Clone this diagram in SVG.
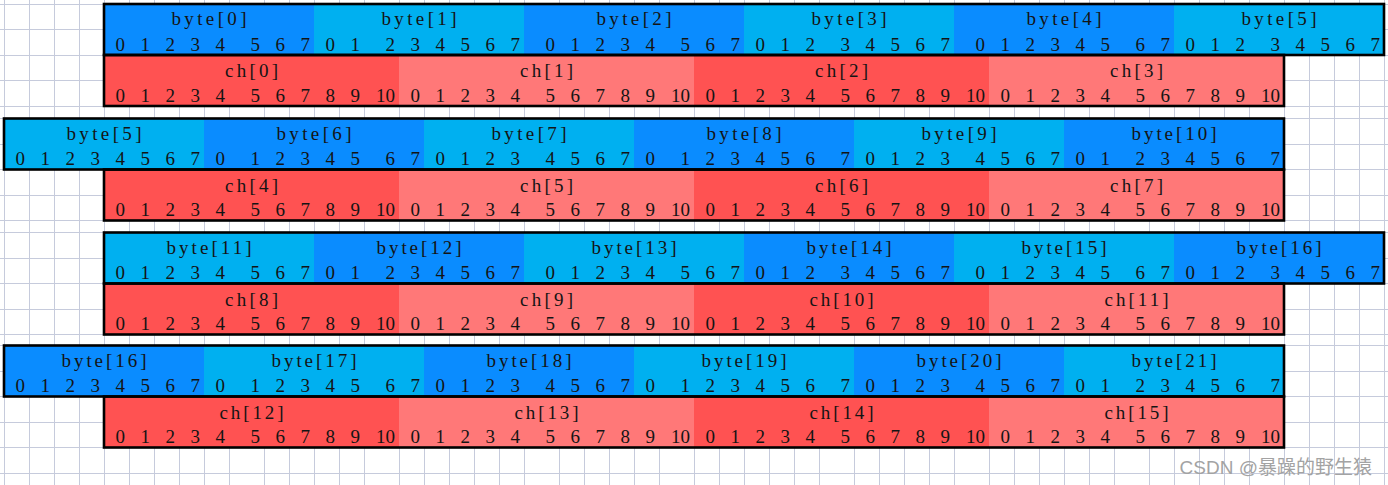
<svg xmlns="http://www.w3.org/2000/svg" width="1388" height="485" viewBox="0 0 1388 485">
<style>
.db{fill:#0a8cff}.lb{fill:#00b0f0}.dr{fill:#ff5252}.lr{fill:#ff7878}
.t{font-family:"Liberation Serif","Noto Serif CJK SC",serif;font-size:19px;fill:#141414}
.lab{text-anchor:middle}.dig{text-anchor:end}
.bd{fill:none;stroke:#000;stroke-width:2.6}
.grid{fill:none;stroke:#c6cbdc;stroke-width:1;shape-rendering:crispEdges}
.wm{font-family:"Liberation Sans","Noto Sans CJK SC",sans-serif;font-size:19px;fill:#a3a3a3}
</style>
<rect width="1388" height="485" fill="#fff"/>
<path class="grid" d="M4.5 0V485M29.5 0V485M54.5 0V485M79.5 0V485M104.5 0V485M129.5 0V485M154.5 0V485M179.5 0V485M204.5 0V485M229.5 0V485M264.5 0V485M289.5 0V485M314.5 0V485M339.5 0V485M364.5 0V485M399.5 0V485M424.5 0V485M449.5 0V485M474.5 0V485M499.5 0V485M524.5 0V485M559.5 0V485M584.5 0V485M609.5 0V485M634.5 0V485M659.5 0V485M694.5 0V485M719.5 0V485M744.5 0V485M769.5 0V485M794.5 0V485M819.5 0V485M854.5 0V485M879.5 0V485M904.5 0V485M929.5 0V485M954.5 0V485M989.5 0V485M1014.5 0V485M1039.5 0V485M1064.5 0V485M1089.5 0V485M1114.5 0V485M1149.5 0V485M1174.5 0V485M1199.5 0V485M1224.5 0V485M1249.5 0V485M1284.5 0V485M1309.5 0V485M1334.5 0V485M1359.5 0V485M1384.5 0V485M0 4.5H1388M0 29.5H1388M0 55.5H1388M0 80.5H1388M0 106.5H1388M0 118.5H1388M0 144.5H1388M0 169.5H1388M0 195.5H1388M0 220.5H1388M0 232.5H1388M0 258.5H1388M0 283.5H1388M0 309.5H1388M0 334.5H1388M0 345.5H1388M0 371.5H1388M0 396.5H1388M0 422.5H1388M0 447.5H1388M0 473.5H1388"/>

<!-- Section 1 -->
<g id="s1-byte0"><rect class="db" x="104" y="4" width="210" height="51"/><text class="t lab" x="209" y="25" textLength="75">byte[0]</text><text class="t dig" x="125 150 175 200 225 260 285 310" y="50.5">01234567</text></g>
<g id="s1-byte1"><rect class="lb" x="314" y="4" width="210" height="51"/><text class="t lab" x="419" y="25" textLength="75">byte[1]</text><text class="t dig" x="335 360 395 420 445 470 495 520" y="50.5">01234567</text></g>
<g id="s1-byte2"><rect class="db" x="524" y="4" width="220" height="51"/><text class="t lab" x="634" y="25" textLength="75">byte[2]</text><text class="t dig" x="555 580 605 630 655 690 715 740" y="50.5">01234567</text></g>
<g id="s1-byte3"><rect class="lb" x="744" y="4" width="210" height="51"/><text class="t lab" x="849" y="25" textLength="75">byte[3]</text><text class="t dig" x="765 790 815 850 875 900 925 950" y="50.5">01234567</text></g>
<g id="s1-byte4"><rect class="db" x="954" y="4" width="220" height="51"/><text class="t lab" x="1064" y="25" textLength="75">byte[4]</text><text class="t dig" x="985 1010 1035 1060 1085 1110 1145 1170" y="50.5">01234567</text></g>
<g id="s1-byte5"><rect class="lb" x="1174" y="4" width="210" height="51"/><text class="t lab" x="1279" y="25" textLength="75">byte[5]</text><text class="t dig" x="1195 1220 1245 1280 1305 1330 1355 1380" y="50.5">01234567</text></g>
<g id="s1-ch0"><rect class="dr" x="104" y="55" width="295" height="51"/><text class="t lab" x="251.5" y="77" textLength="53">ch[0]</text><text class="t dig" x="125 150 175 200 225 260 285 310 335 360 385.5 395" y="101.5">012345678910</text></g>
<g id="s1-ch1"><rect class="lr" x="399" y="55" width="295" height="51"/><text class="t lab" x="546.5" y="77" textLength="53">ch[1]</text><text class="t dig" x="420 445 470 495 520 555 580 605 630 655 680.5 690" y="101.5">012345678910</text></g>
<g id="s1-ch2"><rect class="dr" x="694" y="55" width="295" height="51"/><text class="t lab" x="841.5" y="77" textLength="53">ch[2]</text><text class="t dig" x="715 740 765 790 815 850 875 900 925 950 975.5 985" y="101.5">012345678910</text></g>
<g id="s1-ch3"><rect class="lr" x="989" y="55" width="295" height="51"/><text class="t lab" x="1136.5" y="77" textLength="53">ch[3]</text><text class="t dig" x="1010 1035 1060 1085 1110 1145 1170 1195 1220 1245 1270.5 1280" y="101.5">012345678910</text></g>

<!-- Section 2 -->
<g id="s2-byte5"><rect class="lb" x="4" y="118.5" width="200" height="51"/><text class="t lab" x="104" y="139.5" textLength="75">byte[5]</text><text class="t dig" x="25 50 75 100 125 150 175 200" y="165">01234567</text></g>
<g id="s2-byte6"><rect class="db" x="204" y="118.5" width="220" height="51"/><text class="t lab" x="314" y="139.5" textLength="75">byte[6]</text><text class="t dig" x="225 260 285 310 335 360 395 420" y="165">01234567</text></g>
<g id="s2-byte7"><rect class="lb" x="424" y="118.5" width="210" height="51"/><text class="t lab" x="529" y="139.5" textLength="75">byte[7]</text><text class="t dig" x="445 470 495 520 555 580 605 630" y="165">01234567</text></g>
<g id="s2-byte8"><rect class="db" x="634" y="118.5" width="220" height="51"/><text class="t lab" x="744" y="139.5" textLength="75">byte[8]</text><text class="t dig" x="655 690 715 740 765 790 815 850" y="165">01234567</text></g>
<g id="s2-byte9"><rect class="lb" x="854" y="118.5" width="210" height="51"/><text class="t lab" x="959" y="139.5" textLength="75">byte[9]</text><text class="t dig" x="875 900 925 950 985 1010 1035 1060" y="165">01234567</text></g>
<g id="s2-byte10"><rect class="db" x="1064" y="118.5" width="220" height="51"/><text class="t lab" x="1174" y="139.5" textLength="85">byte[10]</text><text class="t dig" x="1085 1110 1145 1170 1195 1220 1245 1280" y="165">01234567</text></g>
<g id="s2-ch4"><rect class="dr" x="104" y="169.5" width="295" height="51"/><text class="t lab" x="251.5" y="191.5" textLength="53">ch[4]</text><text class="t dig" x="125 150 175 200 225 260 285 310 335 360 385.5 395" y="216">012345678910</text></g>
<g id="s2-ch5"><rect class="lr" x="399" y="169.5" width="295" height="51"/><text class="t lab" x="546.5" y="191.5" textLength="53">ch[5]</text><text class="t dig" x="420 445 470 495 520 555 580 605 630 655 680.5 690" y="216">012345678910</text></g>
<g id="s2-ch6"><rect class="dr" x="694" y="169.5" width="295" height="51"/><text class="t lab" x="841.5" y="191.5" textLength="53">ch[6]</text><text class="t dig" x="715 740 765 790 815 850 875 900 925 950 975.5 985" y="216">012345678910</text></g>
<g id="s2-ch7"><rect class="lr" x="989" y="169.5" width="295" height="51"/><text class="t lab" x="1136.5" y="191.5" textLength="53">ch[7]</text><text class="t dig" x="1010 1035 1060 1085 1110 1145 1170 1195 1220 1245 1270.5 1280" y="216">012345678910</text></g>

<!-- Section 3 -->
<g id="s3-byte11"><rect class="lb" x="104" y="232.5" width="210" height="51"/><text class="t lab" x="209" y="253.5" textLength="85">byte[11]</text><text class="t dig" x="125 150 175 200 225 260 285 310" y="279">01234567</text></g>
<g id="s3-byte12"><rect class="db" x="314" y="232.5" width="210" height="51"/><text class="t lab" x="419" y="253.5" textLength="85">byte[12]</text><text class="t dig" x="335 360 395 420 445 470 495 520" y="279">01234567</text></g>
<g id="s3-byte13"><rect class="lb" x="524" y="232.5" width="220" height="51"/><text class="t lab" x="634" y="253.5" textLength="85">byte[13]</text><text class="t dig" x="555 580 605 630 655 690 715 740" y="279">01234567</text></g>
<g id="s3-byte14"><rect class="db" x="744" y="232.5" width="210" height="51"/><text class="t lab" x="849" y="253.5" textLength="85">byte[14]</text><text class="t dig" x="765 790 815 850 875 900 925 950" y="279">01234567</text></g>
<g id="s3-byte15"><rect class="lb" x="954" y="232.5" width="220" height="51"/><text class="t lab" x="1064" y="253.5" textLength="85">byte[15]</text><text class="t dig" x="985 1010 1035 1060 1085 1110 1145 1170" y="279">01234567</text></g>
<g id="s3-byte16"><rect class="db" x="1174" y="232.5" width="210" height="51"/><text class="t lab" x="1279" y="253.5" textLength="85">byte[16]</text><text class="t dig" x="1195 1220 1245 1280 1305 1330 1355 1380" y="279">01234567</text></g>
<g id="s3-ch8"><rect class="dr" x="104" y="283.5" width="295" height="51"/><text class="t lab" x="251.5" y="305.5" textLength="53">ch[8]</text><text class="t dig" x="125 150 175 200 225 260 285 310 335 360 385.5 395" y="330">012345678910</text></g>
<g id="s3-ch9"><rect class="lr" x="399" y="283.5" width="295" height="51"/><text class="t lab" x="546.5" y="305.5" textLength="53">ch[9]</text><text class="t dig" x="420 445 470 495 520 555 580 605 630 655 680.5 690" y="330">012345678910</text></g>
<g id="s3-ch10"><rect class="dr" x="694" y="283.5" width="295" height="51"/><text class="t lab" x="841.5" y="305.5" textLength="64">ch[10]</text><text class="t dig" x="715 740 765 790 815 850 875 900 925 950 975.5 985" y="330">012345678910</text></g>
<g id="s3-ch11"><rect class="lr" x="989" y="283.5" width="295" height="51"/><text class="t lab" x="1136.5" y="305.5" textLength="64">ch[11]</text><text class="t dig" x="1010 1035 1060 1085 1110 1145 1170 1195 1220 1245 1270.5 1280" y="330">012345678910</text></g>

<!-- Section 4 -->
<g id="s4-byte16"><rect class="db" x="4" y="345.5" width="200" height="51"/><text class="t lab" x="104" y="366.5" textLength="85">byte[16]</text><text class="t dig" x="25 50 75 100 125 150 175 200" y="392">01234567</text></g>
<g id="s4-byte17"><rect class="lb" x="204" y="345.5" width="220" height="51"/><text class="t lab" x="314" y="366.5" textLength="85">byte[17]</text><text class="t dig" x="225 260 285 310 335 360 395 420" y="392">01234567</text></g>
<g id="s4-byte18"><rect class="db" x="424" y="345.5" width="210" height="51"/><text class="t lab" x="529" y="366.5" textLength="85">byte[18]</text><text class="t dig" x="445 470 495 520 555 580 605 630" y="392">01234567</text></g>
<g id="s4-byte19"><rect class="lb" x="634" y="345.5" width="220" height="51"/><text class="t lab" x="744" y="366.5" textLength="85">byte[19]</text><text class="t dig" x="655 690 715 740 765 790 815 850" y="392">01234567</text></g>
<g id="s4-byte20"><rect class="db" x="854" y="345.5" width="210" height="51"/><text class="t lab" x="959" y="366.5" textLength="85">byte[20]</text><text class="t dig" x="875 900 925 950 985 1010 1035 1060" y="392">01234567</text></g>
<g id="s4-byte21"><rect class="lb" x="1064" y="345.5" width="220" height="51"/><text class="t lab" x="1174" y="366.5" textLength="85">byte[21]</text><text class="t dig" x="1085 1110 1145 1170 1195 1220 1245 1280" y="392">01234567</text></g>
<g id="s4-ch12"><rect class="dr" x="104" y="396.5" width="295" height="51"/><text class="t lab" x="251.5" y="418.5" textLength="64">ch[12]</text><text class="t dig" x="125 150 175 200 225 260 285 310 335 360 385.5 395" y="443">012345678910</text></g>
<g id="s4-ch13"><rect class="lr" x="399" y="396.5" width="295" height="51"/><text class="t lab" x="546.5" y="418.5" textLength="64">ch[13]</text><text class="t dig" x="420 445 470 495 520 555 580 605 630 655 680.5 690" y="443">012345678910</text></g>
<g id="s4-ch14"><rect class="dr" x="694" y="396.5" width="295" height="51"/><text class="t lab" x="841.5" y="418.5" textLength="64">ch[14]</text><text class="t dig" x="715 740 765 790 815 850 875 900 925 950 975.5 985" y="443">012345678910</text></g>
<g id="s4-ch15"><rect class="lr" x="989" y="396.5" width="295" height="51"/><text class="t lab" x="1136.5" y="418.5" textLength="64">ch[15]</text><text class="t dig" x="1010 1035 1060 1085 1110 1145 1170 1195 1220 1245 1270.5 1280" y="443">012345678910</text></g>

<g id="borders">
<rect class="bd" x="104" y="4" width="1280" height="51"/>
<rect class="bd" x="104" y="55" width="1180" height="51"/>
<rect class="bd" x="4" y="118.5" width="1280" height="51"/>
<rect class="bd" x="104" y="169.5" width="1180" height="51"/>
<rect class="bd" x="104" y="232.5" width="1280" height="51"/>
<rect class="bd" x="104" y="283.5" width="1180" height="51"/>
<rect class="bd" x="4" y="345.5" width="1280" height="51"/>
<rect class="bd" x="104" y="396.5" width="1180" height="51"/>
</g>
<g id="connectors"/>
<text class="wm" x="1372" y="474" text-anchor="end">CSDN @暴躁的野生猿</text>
</svg>
